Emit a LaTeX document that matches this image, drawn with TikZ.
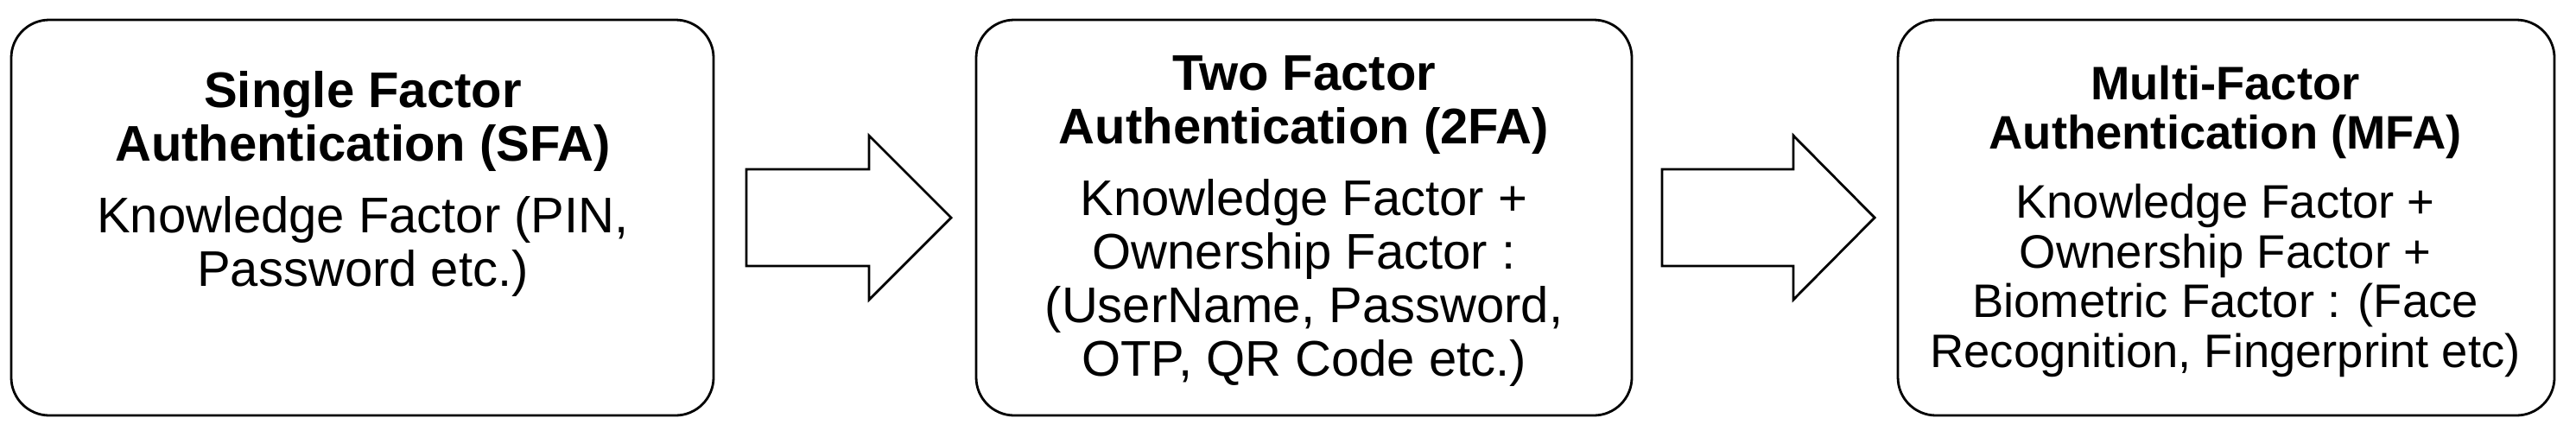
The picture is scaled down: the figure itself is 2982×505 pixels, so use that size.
\documentclass[tikz,border=0pt]{standalone}
\usepackage{fontspec}
\setmainfont{Liberation Sans}
\begin{document}
\begin{tikzpicture}[x=0.25pt,y=-0.25pt,
  box/.style={draw=black,line width=0.7pt,rounded corners=11pt,fill=white,inner sep=0pt},
  blockarrow/.style={draw=black,line width=0.7pt,fill=white,line join=miter},
  bigtext/.style={align=center,inner sep=0pt,anchor=north,font=\fontsize{14.5}{15.5}\selectfont},
  smalltext/.style={align=center,inner sep=0pt,anchor=north,font=\fontsize{13.6}{14.4}\selectfont}]
\useasboundingbox (0,0) rectangle (2982,505);
\node[box,minimum width=203.25pt,minimum height=114.5pt] (b1) at (419.5,252) {};
\node[box,minimum width=189.75pt,minimum height=114.5pt] (b2) at (1509.5,252) {};
\node[box,minimum width=190pt,minimum height=114.5pt] (b3) at (2577,252) {};
% block arrows
\coordinate (a1s) at (864,252);
\coordinate (a2s) at (1924,252);
\draw[blockarrow] (a1s) ++(0,-56) -- ++(142,0) -- ++(0,-39) -- ++(95,95) -- ++(-95,95) -- ++(0,-39) -- ++(-142,0) -- cycle;
\draw[blockarrow] (a2s) ++(0,-56) -- ++(152,0) -- ++(0,-39) -- ++(94,95) -- ++(-94,95) -- ++(0,-39) -- ++(-152,0) -- cycle;
% texts
\node[bigtext] (t1) at (420,81.5) {\bfseries Single Factor\\\bfseries Authentication (SFA)\\[5.25pt]Knowledge Factor (PIN,\\Password etc.)};
\node[bigtext] (t2) at (1509.5,63.5) {\bfseries Two Factor\\\bfseries Authentication (2FA)\\[5.25pt]Knowledge Factor +\\Ownership Factor :\\(UserName, Password,\\OTP, QR Code etc.)};
\node[smalltext] (t3) at (2576,75) {\bfseries Multi-Factor\\\bfseries Authentication (MFA)\\[5.5pt]Knowledge Factor +\\Ownership Factor +\\Biometric Factor : (Face\\Recognition, Fingerprint etc)};
\end{tikzpicture}
\end{document}
